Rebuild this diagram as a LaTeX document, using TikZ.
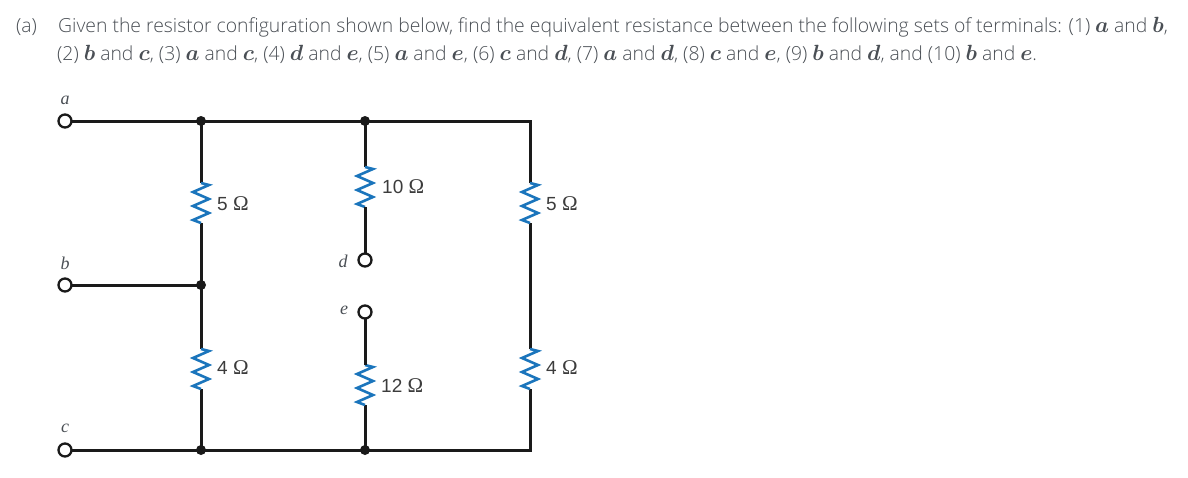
\documentclass[tikz,border=0pt]{standalone}
\usepackage{fix-cm}
\usepackage{fontspec}
\newfontfamily\bodyfont{Open Sans Light}
\newfontfamily\figfont{Liberation Sans}
\newfontfamily\serifont{Liberation Serif}
\newcommand{\mv}[1]{{\fontsize{22}{24}\selectfont\boldmath$#1$}}
\newcommand{\ohm}{{\serifont\fontsize{21}{23}\selectfont Ω}}
\definecolor{txt}{HTML}{4A4F55}
\definecolor{wireblk}{HTML}{1A1A1A}
\definecolor{resblue}{HTML}{1B75BC}
\tikzset{
  x=1pt,y=-1pt,
  textline/.style={anchor=base west,inner sep=0pt,text=txt,font=\fontsize{19.36}{22}\selectfont\bodyfont},
  wire/.style={draw=wireblk,line width=3pt},
  term/.style={circle,draw=wireblk,line width=2.3pt,fill=white,minimum size=13pt,inner sep=0pt},
  junction/.style={circle,fill=wireblk,minimum size=10pt,inner sep=0pt},
  res/.style={draw=resblue,line width=2.6pt,line join=miter},
  vlabel/.style={inner sep=0pt,text=txt,font=\fontsize{18}{20}\selectfont\serifont\itshape},
  rlabel/.style={anchor=west,inner sep=0pt,text=wireblk!85,font=\fontsize{19}{21}\selectfont\figfont},
}
\newcommand{\zigzagres}[1]{\draw[res] (#1) -- ++(8,2) -- ++(-16,7) -- ++(16,7) -- ++(-16,7) -- ++(16,7) -- ++(-16,7) -- ++(8,3);}
\begin{document}
\begin{tikzpicture}
\useasboundingbox (0,0) rectangle (1188,477);
\node[textline] (l1) at (16,32) {\makebox[42pt][l]{(a)}Given the resistor configuration shown below, find the equivalent resistance between the following sets of terminals: (1) \mv{a} and \mv{b},};
\node[textline] (l2) at (57,60) {(2) \mv{b} and \mv{c}, (3) \mv{a} and \mv{c}, (4) \mv{d} and \mv{e}, (5) \mv{a} and \mv{e}, (6) \mv{c} and \mv{d}, (7) \mv{a} and \mv{d}, (8) \mv{c} and \mv{e}, (9) \mv{b} and \mv{d}, and (10) \mv{b} and \mv{e}.};

\coordinate (tl) at (201,121); \coordinate (tm) at (365,121); \coordinate (tr) at (530,121);
\coordinate (ml) at (201,285);
\coordinate (bl) at (201,450); \coordinate (bm) at (365,450); \coordinate (br) at (530,450);

\coordinate (r1t) at (201,183); \coordinate (r1b) at (201,223);
\coordinate (r2t) at (201,349); \coordinate (r2b) at (201,389);
\coordinate (r3t) at (365,167); \coordinate (r3b) at (365,207);
\coordinate (r4t) at (365,365); \coordinate (r4b) at (365,405);
\coordinate (r5t) at (530,183); \coordinate (r5b) at (530,223);
\coordinate (r6t) at (530,349); \coordinate (r6b) at (530,389);

\draw[wire,line join=miter] (tl) -- (tr) -- (r5t) (r5b) -- (r6t) (r6b) -- (br) -- (bl);
\draw[wire] (tl) -- (r1t) (r1b) -- (r2t) (r2b) -- (bl);
\draw[wire] (tm) -- (r3t) (r4b) -- (bm);
\foreach \r in {1,...,6} {\zigzagres{r\r t}}

\coordinate (a0) at (65,121);
\coordinate (b0) at (65,285);
\coordinate (c0) at (65,450);
\coordinate (d0) at (365,260);
\coordinate (e0) at (365,312);
\draw[wire] (a0) -- (tl) (b0) -- (ml) (c0) -- (bl) (r3b) -- (d0) (e0) -- (r4t);
\node[term] (a) at (a0) {};
\node[term] (b) at (b0) {};
\node[term] (c) at (c0) {};
\node[term] (d) at (d0) {};
\node[term] (e) at (e0) {};
\foreach \j in {tl,tm,ml,bl,bm} \node[junction] at (\j) {};

\node[vlabel] (la) at (65,100) {a};
\node[vlabel] (lb) at (65,263) {b};
\node[vlabel] (lc) at (65,428) {c};
\node[vlabel] (ld) at (343,261) {d};
\node[vlabel] (le) at (344,310) {e};

\node[rlabel] (v1) at (217,204) {5 \ohm};
\node[rlabel] (v2) at (217,368) {4 \ohm};
\node[rlabel] (v3) at (382,187) {10 \ohm};
\node[rlabel] (v4) at (381,386) {12 \ohm};
\node[rlabel] (v5) at (546,204) {5 \ohm};
\node[rlabel] (v6) at (546,368) {4 \ohm};
\end{tikzpicture}
\end{document}
